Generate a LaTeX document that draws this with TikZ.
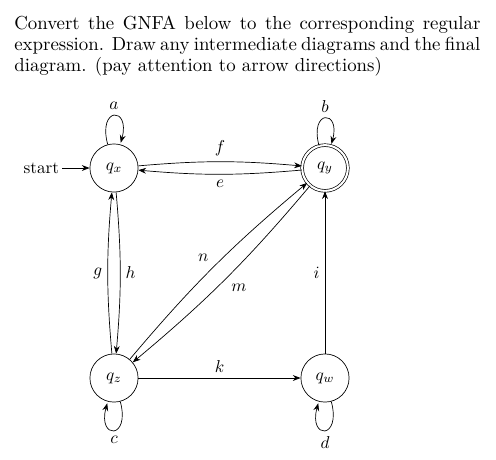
\documentclass[tikz,border=0pt]{standalone}
\usetikzlibrary{automata,arrows.meta}
\begin{document}
\begin{tikzpicture}[x=0.5814pt,y=-0.5814pt,
  >={Stealth[length=4.5pt,width=3.4pt]},
  every state/.style={draw, circle, minimum size=28pt, inner sep=0pt},
  accepting/.style={double, double distance=1.2pt, minimum size=26.6pt},
  trans/.style={->, draw, thin},
  lbl/.style={auto, inner sep=3pt},
  para/.style={anchor=base west, inner sep=0pt, font=\fontsize{10.95}{13}\selectfont}]
\useasboundingbox (0,0) rectangle (496,459);
\node[para] (l1) at (14,29) {\makebox[271pt][s]{Convert the GNFA below to the corresponding regular}};
\node[para] (l2) at (14,50) {\makebox[271pt][s]{expression. Draw any intermediate diagrams and the final}};
\node[para] (l3) at (14,71) {diagram. (pay attention to arrow directions)};

\node[state] (qx) at (114,168) {$q_x$};
\node[state,accepting] (qy) at (325,168) {$q_y$};
\node[state] (qz) at (114,378) {$q_z$};
\node[state] (qw) at (325,378) {$q_w$};
\node[anchor=east, inner sep=1.5pt] (st) at (62,168) {start};
\draw[trans] (st) -- (qx);

\path[trans] (qx) edge[loop above] node {$a$} ()
             (qy) edge[loop above] node {$b$} ()
             (qz) edge[loop below] node {$c$} ()
             (qw) edge[loop below] node {$d$} ();
\path[trans] (qx) edge[bend left=5] node[lbl] {$f$} (qy)
             (qy) edge[bend left=5] node[lbl] {$e$} (qx)
             (qz) edge[bend left=5] node[lbl] {$g$} (qx)
             (qx) edge[bend left=5] node[lbl] {$h$} (qz)
             (qz) edge[bend left=5] node[lbl] {$n$} (qy)
             (qy) edge[bend left=5] node[lbl] {$m$} (qz)
             (qz) edge node[lbl] {$k$} (qw)
             (qw) edge node[lbl] {$i$} (qy);
\end{tikzpicture}
\end{document}
